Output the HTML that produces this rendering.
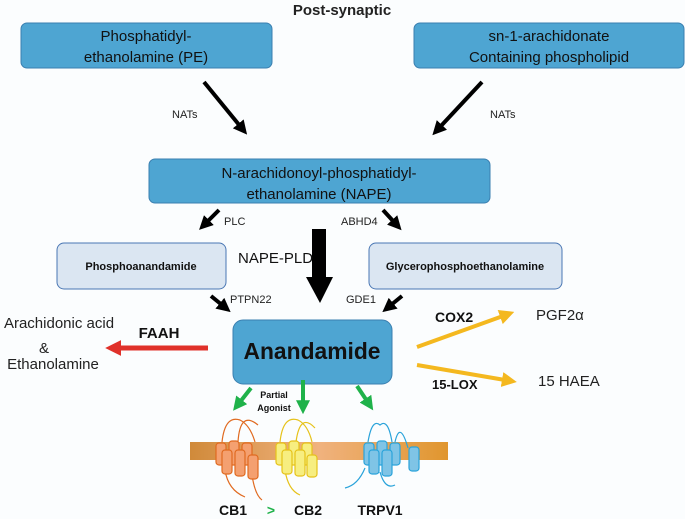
<!DOCTYPE html>
<html><head><meta charset="utf-8"><style>
html,body{margin:0;padding:0;background:#fbfdfe;}
svg{display:block;font-family:"Liberation Sans",sans-serif;}
</style></head><body>
<svg width="685" height="519" viewBox="0 0 685 519" xmlns="http://www.w3.org/2000/svg">
<defs>
<marker id="ak" viewBox="0 0 10 10" refX="2" refY="5" markerUnits="userSpaceOnUse" markerWidth="14" markerHeight="14" orient="auto"><path d="M0,0L10,5L0,10z" fill="#000"/></marker>
<marker id="ar" viewBox="0 0 10 10" refX="2" refY="5" markerUnits="userSpaceOnUse" markerWidth="16" markerHeight="16" orient="auto"><path d="M0,0L10,5L0,10z" fill="#e0312a"/></marker>
<marker id="ay" viewBox="0 0 10 10" refX="2" refY="5" markerUnits="userSpaceOnUse" markerWidth="15" markerHeight="15" orient="auto"><path d="M0,0L10,5L0,10z" fill="#f4b81f"/></marker>
<marker id="ag" viewBox="0 0 10 10" refX="2" refY="5" markerUnits="userSpaceOnUse" markerWidth="14" markerHeight="14" orient="auto"><path d="M0,0L10,5L0,10z" fill="#1fb24a"/></marker>
<linearGradient id="mem" x1="0" x2="1"><stop offset="0" stop-color="#d08a3a"/><stop offset="0.5" stop-color="#f0b27e"/><stop offset="1" stop-color="#e0962e"/></linearGradient>
</defs>
<text x="342" y="15" text-anchor="middle" font-weight="bold" font-size="15" fill="#222">Post-synaptic</text>
<rect x="21" y="23" width="251" height="45" rx="6" fill="#4ea5d2" stroke="#3a7fb0"/>
<text x="146" y="41" text-anchor="middle" font-size="15" fill="#111">Phosphatidyl-</text>
<text x="146" y="62" text-anchor="middle" font-size="15" fill="#111">ethanolamine (PE)</text>
<rect x="414" y="23" width="270" height="45" rx="6" fill="#4ea5d2" stroke="#3a7fb0"/>
<text x="549" y="41" text-anchor="middle" font-size="15" fill="#111">sn-1-arachidonate</text>
<text x="549" y="62" text-anchor="middle" font-size="15" fill="#111">Containing phospholipid</text>
<line x1="204" y1="82" x2="240" y2="126" stroke="#000" stroke-width="4" marker-end="url(#ak)"/>
<line x1="482" y1="82" x2="440" y2="127" stroke="#000" stroke-width="4" marker-end="url(#ak)"/>
<text x="172" y="118" font-size="11" fill="#222">NATs</text>
<text x="490" y="118" font-size="11" fill="#222">NATs</text>
<rect x="149" y="159" width="341" height="44" rx="6" fill="#4ea5d2" stroke="#3a7fb0"/>
<text x="319" y="178" text-anchor="middle" font-size="15" fill="#111">N-arachidonoyl-phosphatidyl-</text>
<text x="319" y="199" text-anchor="middle" font-size="15" fill="#111">ethanolamine (NAPE)</text>
<line x1="219" y1="210" x2="207" y2="222" stroke="#000" stroke-width="4" marker-end="url(#ak)"/>
<text x="224" y="225" font-size="11" fill="#222">PLC</text>
<line x1="383" y1="210" x2="394" y2="222" stroke="#000" stroke-width="4" marker-end="url(#ak)"/>
<text x="341" y="225" font-size="11" fill="#222">ABHD4</text>
<rect x="312" y="229" width="14" height="50" fill="#000"/>
<path d="M306,277L333,277L320,303z" fill="#000"/>
<text x="238" y="263" font-size="15" fill="#111">NAPE-PLD</text>
<rect x="57" y="243" width="169" height="46" rx="7" fill="#dbe6f2" stroke="#4a77b4"/>
<text x="141" y="270" text-anchor="middle" font-size="11" font-weight="bold" fill="#111">Phosphoanandamide</text>
<rect x="369" y="243" width="193" height="46" rx="7" fill="#dbe6f2" stroke="#4a77b4"/>
<text x="465" y="270" text-anchor="middle" font-size="11" font-weight="bold" fill="#111">Glycerophosphoethanolamine</text>
<line x1="211" y1="296" x2="222" y2="305" stroke="#000" stroke-width="4" marker-end="url(#ak)"/>
<text x="230" y="303" font-size="11" fill="#222">PTPN22</text>
<line x1="402" y1="296" x2="391" y2="305" stroke="#000" stroke-width="4" marker-end="url(#ak)"/>
<text x="346" y="303" font-size="11" fill="#222">GDE1</text>
<rect x="233" y="320" width="159" height="64" rx="10" fill="#4ea5d2" stroke="#3a7fb0"/>
<text x="312" y="359" text-anchor="middle" font-size="23" font-weight="bold" fill="#111" textLength="137" lengthAdjust="spacingAndGlyphs">Anandamide</text>
<line x1="208" y1="348" x2="118" y2="348" stroke="#e0312a" stroke-width="5" marker-end="url(#ar)"/>
<text x="159" y="338" text-anchor="middle" font-size="15" font-weight="bold" fill="#111">FAAH</text>
<text x="59" y="328" text-anchor="middle" font-size="15" fill="#222">Arachidonic acid</text>
<text x="44" y="353" text-anchor="middle" font-size="15" fill="#222">&amp;</text>
<text x="53" y="369" text-anchor="middle" font-size="15" fill="#222">Ethanolamine</text>
<line x1="417" y1="347" x2="503" y2="316" stroke="#f4b81f" stroke-width="4" marker-end="url(#ay)"/>
<text x="435" y="322" font-size="14" font-weight="bold" fill="#111">COX2</text>
<text x="536" y="320" font-size="15" fill="#222">PGF2α</text>
<line x1="417" y1="365" x2="505" y2="380" stroke="#f4b81f" stroke-width="4" marker-end="url(#ay)"/>
<text x="432" y="389" font-size="13" font-weight="bold" fill="#111">15-LOX</text>
<text x="538" y="386" font-size="15" fill="#222">15 HAEA</text>
<line x1="251" y1="388" x2="240" y2="402" stroke="#1fb24a" stroke-width="4" marker-end="url(#ag)"/>
<line x1="303" y1="380" x2="303" y2="403" stroke="#1fb24a" stroke-width="4" marker-end="url(#ag)"/>
<line x1="357" y1="386" x2="367" y2="401" stroke="#1fb24a" stroke-width="4" marker-end="url(#ag)"/>
<text x="274" y="398" text-anchor="middle" font-size="9" font-weight="bold" fill="#111">Partial</text>
<text x="274" y="411" text-anchor="middle" font-size="9" font-weight="bold" fill="#111">Agonist</text>
<rect x="190" y="442" width="258" height="18" fill="url(#mem)"/>
<g fill="#f4a070" stroke="#e06a20" stroke-width="1.2">
<path d="M222,442 Q225,415 240,420 Q250,425 255,442 M238,442 Q240,410 258,425 M225,470 Q228,490 245,497 M252,475 Q255,495 262,500" fill="none"/>
<rect x="216" y="443" width="10" height="22" rx="3"/><rect x="229" y="441" width="10" height="24" rx="3"/><rect x="242" y="443" width="10" height="22" rx="3"/>
<rect x="222" y="450" width="10" height="24" rx="3"/><rect x="235" y="450" width="10" height="26" rx="3"/><rect x="248" y="455" width="10" height="24" rx="3"/>
</g>
<g fill="#f7ee80" stroke="#e6c21a" stroke-width="1.2">
<path d="M280,442 Q283,415 298,420 Q308,425 312,442 M296,442 Q300,412 315,428 M285,470 Q288,490 300,495" fill="none"/>
<rect x="276" y="443" width="10" height="22" rx="3"/><rect x="289" y="441" width="10" height="24" rx="3"/><rect x="302" y="443" width="10" height="22" rx="3"/>
<rect x="282" y="450" width="10" height="24" rx="3"/><rect x="295" y="450" width="10" height="26" rx="3"/><rect x="307" y="455" width="10" height="22" rx="3"/>
</g>
<g fill="#7fc4e6" stroke="#2aa3da" stroke-width="1.2">
<path d="M368,442 Q372,418 380,425 Q388,418 392,442 M395,442 Q400,420 408,448 M365,468 Q358,485 345,488 M380,472 Q385,490 395,485" fill="none"/>
<rect x="364" y="443" width="10" height="22" rx="3"/><rect x="377" y="441" width="10" height="24" rx="3"/><rect x="390" y="443" width="10" height="22" rx="3"/>
<rect x="369" y="450" width="10" height="24" rx="3"/><rect x="382" y="450" width="10" height="26" rx="3"/><rect x="409" y="447" width="10" height="24" rx="3"/>
</g>
<text x="233" y="515" text-anchor="middle" font-size="14" font-weight="bold" fill="#111">CB1</text>
<text x="271" y="515" text-anchor="middle" font-size="14" font-weight="bold" fill="#1fb24a">&gt;</text>
<text x="308" y="515" text-anchor="middle" font-size="14" font-weight="bold" fill="#111">CB2</text>
<text x="380" y="515" text-anchor="middle" font-size="14" font-weight="bold" fill="#111">TRPV1</text>
</svg>
</body></html>
